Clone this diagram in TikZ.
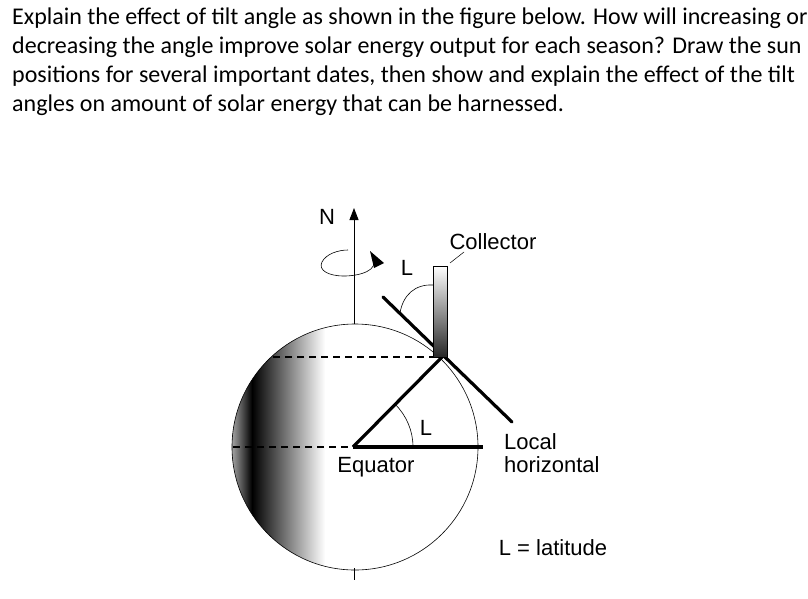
\documentclass[tikz,border=0pt]{standalone}
\usepackage{fontspec}
\setmainfont{Carlito}
\newfontfamily\arialf{Liberation Sans}
\usetikzlibrary{arrows.meta}
\begin{document}
\begin{tikzpicture}[x=1pt,y=-1pt,
  hdr/.style={anchor=west,inner sep=0pt,font=\fontsize{24}{28}\selectfont},
  lbl/.style={inner sep=0pt,font=\arialf\fontsize{22}{25}\selectfont},
  thick line/.style={line width=3.2pt},
  dsh/.style={line width=2pt,dash pattern=on 7pt off 5pt}]
\useasboundingbox (0,0) rectangle (808,598);
\node[hdr] (h1) at (12,18) {Explain the effect of tilt angle as shown in the figure below. How will increasing or};
\node[hdr] (h2) at (12,47) {decreasing the angle improve solar energy output for each season? Draw the sun};
\node[hdr] (h3) at (12,76) {positions for several important dates, then show and explain the effect of the tilt};
\node[hdr] (h4) at (12,105) {angles on amount of solar energy that can be harnessed.};
% sphere
\coordinate (C) at (355,447);
\begin{scope}
\clip (C) circle (123);
\shade[left color=gray!60, right color=black] (230,320) rectangle (252,575);
\shade[left color=black, right color=white] (252,320) rectangle (325,575);
\end{scope}
\draw[line width=0.6pt] (C) circle (123);
% axis
\coordinate (ntop) at (354,324);
\coordinate (ntip) at (354,208);
\draw[line width=1pt,-{Triangle[length=12pt,width=9pt]}] (ntop) -- (ntip);
\node[lbl] (N) at (327,217) {N};
\draw[line width=0.5pt] (354,568) -- (354,580);
% rotation
\draw[line width=0.6pt] (372,258) .. controls (380,270) and (360,276) .. (344,276) .. controls (328,276) and (318,270) .. (322,262) .. controls (326,254) and (338,250) .. (348,250);
\fill (370,251) -- (384,263) -- (374,268) -- cycle;
% geometry
\coordinate (T) at (442,357);
\coordinate (E0) at (353,447);
\draw[dsh] (273,357) -- (T);
\draw[dsh] (233,447) -- (E0);
\draw[thick line] (E0) -- (483,447);
\draw[thick line] (E0) -- (T);
\draw[thick line,line cap=round] (383,297) -- (512,422);
\draw[line width=0.6pt] (413,447) arc (0:-45:60);
\node[lbl] (L2) at (426,428) {L};
% collector
\shade[top color=white, bottom color=black!85] (433,266) rectangle (447,357);
\draw[line width=0.8pt] (433,266) rectangle (447,357);
\draw[line width=0.6pt] (433,285) .. controls (415,284) and (403,295) .. (400,313);
\node[lbl] (L1) at (407,268) {L};
\node[lbl] (col) at (493,242) {Collector};
\draw[line width=0.5pt] (450,263) -- (464,252);
\node[lbl,anchor=west,align=left] (lh) at (504,453) {Local\\[-2pt]horizontal};
\node[lbl] (eq) at (376,467) {Equator};
\node[lbl] (lat) at (553,548) {L = latitude};
\end{tikzpicture}
\end{document}
